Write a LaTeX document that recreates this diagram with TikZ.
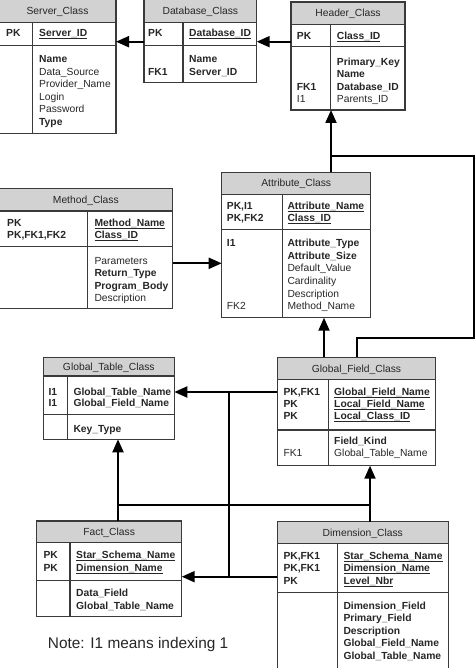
\documentclass[tikz,border=0pt]{standalone}
\usepackage{fontspec}
\setmainfont{Liberation Sans}
\usetikzlibrary{arrows.meta}
\definecolor{titlefill}{HTML}{D2D2D2}
\definecolor{bordercol}{HTML}{3A3A3A}
\definecolor{txtcol}{HTML}{262626}
\newsavebox\ukbox
\newcommand{\ukey}[1]{\sbox\ukbox{\textbf{#1}}\rlap{\rule[-2.0pt]{\wd\ukbox}{0.75pt}}\usebox\ukbox}
\newcommand{\tbox}[9]{%
  \fill[titlefill] (#2,#3) rectangle (#4,#7);
  \node[tbl, minimum width={#4-#2}, minimum height={#5-#3}, anchor=north west] (#1) at (#2,#3) {};
  \draw[tline] (#2,#7) -- (#4,#7);
  \draw[tline] (#2,#9) -- (#4,#9);
  \draw[tline] (#8,#7) -- (#8,#5);
  \node[ttl] (#1-title) at ({(#2+#4)/2},{(#3+#7)/2+3.7}) {#6};
}
\newcommand{\cells}[3]{%
  \foreach \yy/\tx [count=\i] in {#3} {\node[txt] (#1\i) at (#2,\yy+3.6) {\tx};}
}
\begin{document}
\begin{tikzpicture}[x=1pt,y=-1pt,
  tbl/.style={draw=bordercol, line width=1.2pt, inner sep=0pt, outer sep=0pt, rectangle},
  tline/.style={draw=bordercol, line width=1.2pt},
  ttl/.style={anchor=base, inner sep=0pt, text=txtcol, font=\fontsize{10.3}{12.5}\selectfont},
  txt/.style={anchor=base west, inner sep=0pt, text=txtcol, font=\fontsize{10.3}{12.5}\selectfont},
  conn/.style={draw=black, line width=2pt, -{Triangle[length=13pt,width=11pt]}},
  plainline/.style={draw=black, line width=2pt},
  note/.style={anchor=base west, inner sep=0pt, text=txtcol, font=\fontsize{15.4}{18}\selectfont}]
\useasboundingbox (0,0) rectangle (474,668);

% Server_Class
\tbox{srv}{-1}{-1}{116}{133.3}{Server\_Class}{22.7}{32.3}{45.7}
\cells{srv-k}{6}{33.3/\textbf{PK}}
\cells{srv-f}{39}{33.3/\ukey{Server\_ID}, 59.3/\textbf{Name}, 71.7/Data\_Source, 84/Provider\_Name, 96.7/Login, 109/Password, 121.7/\textbf{Type}}

% Database_Class
\tbox{db}{144}{-1}{256.7}{82.7}{Database\_Class}{22.7}{183}{45.7}
\cells{db-k}{148}{33.3/\textbf{PK}, 72/\textbf{FK1}}
\cells{db-f}{189}{33.3/\ukey{Database\_ID}, 59.3/\textbf{Name}, 72/\textbf{Server\_ID}}

% Header_Class
\tbox{hdr}{291}{2}{405}{110}{Header\_Class}{24.3}{330.7}{46.7}
\cells{hdr-k}{296.7}{36/\textbf{PK}, 86.7/\textbf{FK1}, 99.3/I1}
\cells{hdr-f}{336.7}{36/\ukey{Class\_ID}, 62/\textbf{Primary\_Key}, 74.3/\textbf{Name}, 86.7/\textbf{Database\_ID}, 99.3/Parents\_ID}

% Method_Class
\tbox{mth}{-1}{188.3}{172.7}{308.3}{Method\_Class}{211}{87.3}{246.7}
\cells{mth-k}{7}{222.7/\textbf{PK}, 235/{\textbf{PK,FK1,FK2}}}
\cells{mth-f}{94.3}{222.7/\ukey{Method\_Name}, 235/\ukey{Class\_ID}, 260.7/Parameters, 273.3/\textbf{Return\_Type}, 285.7/\textbf{Program\_Body}, 298/Description}

% Attribute_Class
\tbox{atr}{221.7}{172.3}{370.7}{317.7}{Attribute\_Class}{194.3}{282.3}{229.3}
\cells{atr-k}{226.7}{205.7/{\textbf{PK,I1}}, 218.3/{\textbf{PK,FK2}}, 243.3/\textbf{I1}, 306/FK2}
\cells{atr-f}{287.3}{205.7/\ukey{Attribute\_Name}, 218.3/\ukey{Class\_ID}, 243.3/\textbf{Attribute\_Type}, 255.7/\textbf{Attribute\_Size}, 268.3/Default\_Value, 281/Cardinality, 293.7/Description, 306/Method\_Name}

% Global_Table_Class
\tbox{gt}{43.3}{357.7}{174.3}{439.3}{Global\_Table\_Class}{376}{67.3}{414.3}
\cells{gt-k}{48.3}{391.7/\textbf{I1}, 403.3/\textbf{I1}}
\cells{gt-f}{73.3}{391.7/\textbf{Global\_Table\_Name}, 403.3/\textbf{Global\_Field\_Name}, 429.3/\textbf{Key\_Type}}

% Global_Field_Class
\tbox{gf}{277.3}{357.3}{435.7}{465.7}{Global\_Field\_Class}{379.3}{328.3}{430}
\cells{gf-k}{283.3}{391.7/{\textbf{PK,FK1}}, 403.7/\textbf{PK}, 415.7/\textbf{PK}, 453.3/FK1}
\cells{gf-f}{334}{391.7/\ukey{Global\_Field\_Name}, 403.7/\ukey{Local\_Field\_Name}, 415.7/\ukey{Local\_Class\_ID}, 441/\textbf{Field\_Kind}, 453.3/Global\_Table\_Name}

% Fact_Class
\tbox{fct}{36.7}{521}{181.7}{616.7}{Fact\_Class}{542.7}{70}{580.7}
\cells{fct-k}{43.3}{555/\textbf{PK}, 568.3/\textbf{PK}}
\cells{fct-f}{76}{555/\ukey{Star\_Schema\_Name}, 568.3/\ukey{Dimension\_Name}, 593/\textbf{Data\_Field}, 605.6/\textbf{Global\_Table\_Name}}

% Dimension_Class
\tbox{dim}{277.3}{521.7}{448.3}{690}{Dimension\_Class}{543.3}{337.7}{592.7}
\cells{dim-k}{283.3}{556/{\textbf{PK,FK1}}, 568.3/{\textbf{PK,FK1}}, 581/\textbf{PK}}
\cells{dim-f}{343.3}{556/\ukey{Star\_Schema\_Name}, 568.3/\ukey{Dimension\_Name}, 581/\ukey{Level\_Nbr}, 605.7/\textbf{Dimension\_Field}, 618.3/\textbf{Primary\_Field}, 630.7/\textbf{Description}, 643.3/\textbf{Global\_Field\_Name}, 656/\textbf{Global\_Table\_Name}}

% Note
\node[note] (note) at (47.7,648.8) {Note: I1 means indexing 1};

% connector guide coordinates
\coordinate (ly42) at (0,41.7);
\coordinate (ly156) at (0,156);
\coordinate (ly263) at (0,263.3);
\coordinate (ly338) at (0,338);
\coordinate (ly392) at (0,392);
\coordinate (ly505) at (0,505);
\coordinate (ly577) at (0,576.7);
\coordinate (vx118) at (118,0);
\coordinate (vx229) at (229,0);
\coordinate (vx324) at (324,0);
\coordinate (vx331) at (331,0);
\coordinate (vx357) at (357.3,0);
\coordinate (vx370) at (370,0);
\coordinate (vxE) at (474,0);

% connectors
\draw[conn] (db.west |- ly42) -- (srv.east |- ly42);
\draw[conn] (hdr.west |- ly42) -- (db.east |- ly42);
\draw[conn] (atr.north -| vx331) -- (hdr.south -| vx331);
\draw[plainline] (gf.north -| vx357) |- (vxE |- ly338) |- (vx331 |- ly156);
\draw[conn] (mth.east |- ly263) -- (atr.west |- ly263);
\draw[conn] (gf.north -| vx324) -- (atr.south -| vx324);
\draw[conn] (gf.west |- ly392) -- (gt.east |- ly392);
\draw[conn] (fct.north -| vx118) -- (gt.south -| vx118);
\draw[conn] (dim.north -| vx370) -- (gf.south -| vx370);
\draw[plainline] (vx118 |- ly505) -- (vx370 |- ly505);
\draw[conn] (dim.west |- ly577) -- (fct.east |- ly577);
\draw[plainline] (vx229 |- ly392) -- (vx229 |- ly577);
\end{tikzpicture}
\end{document}
